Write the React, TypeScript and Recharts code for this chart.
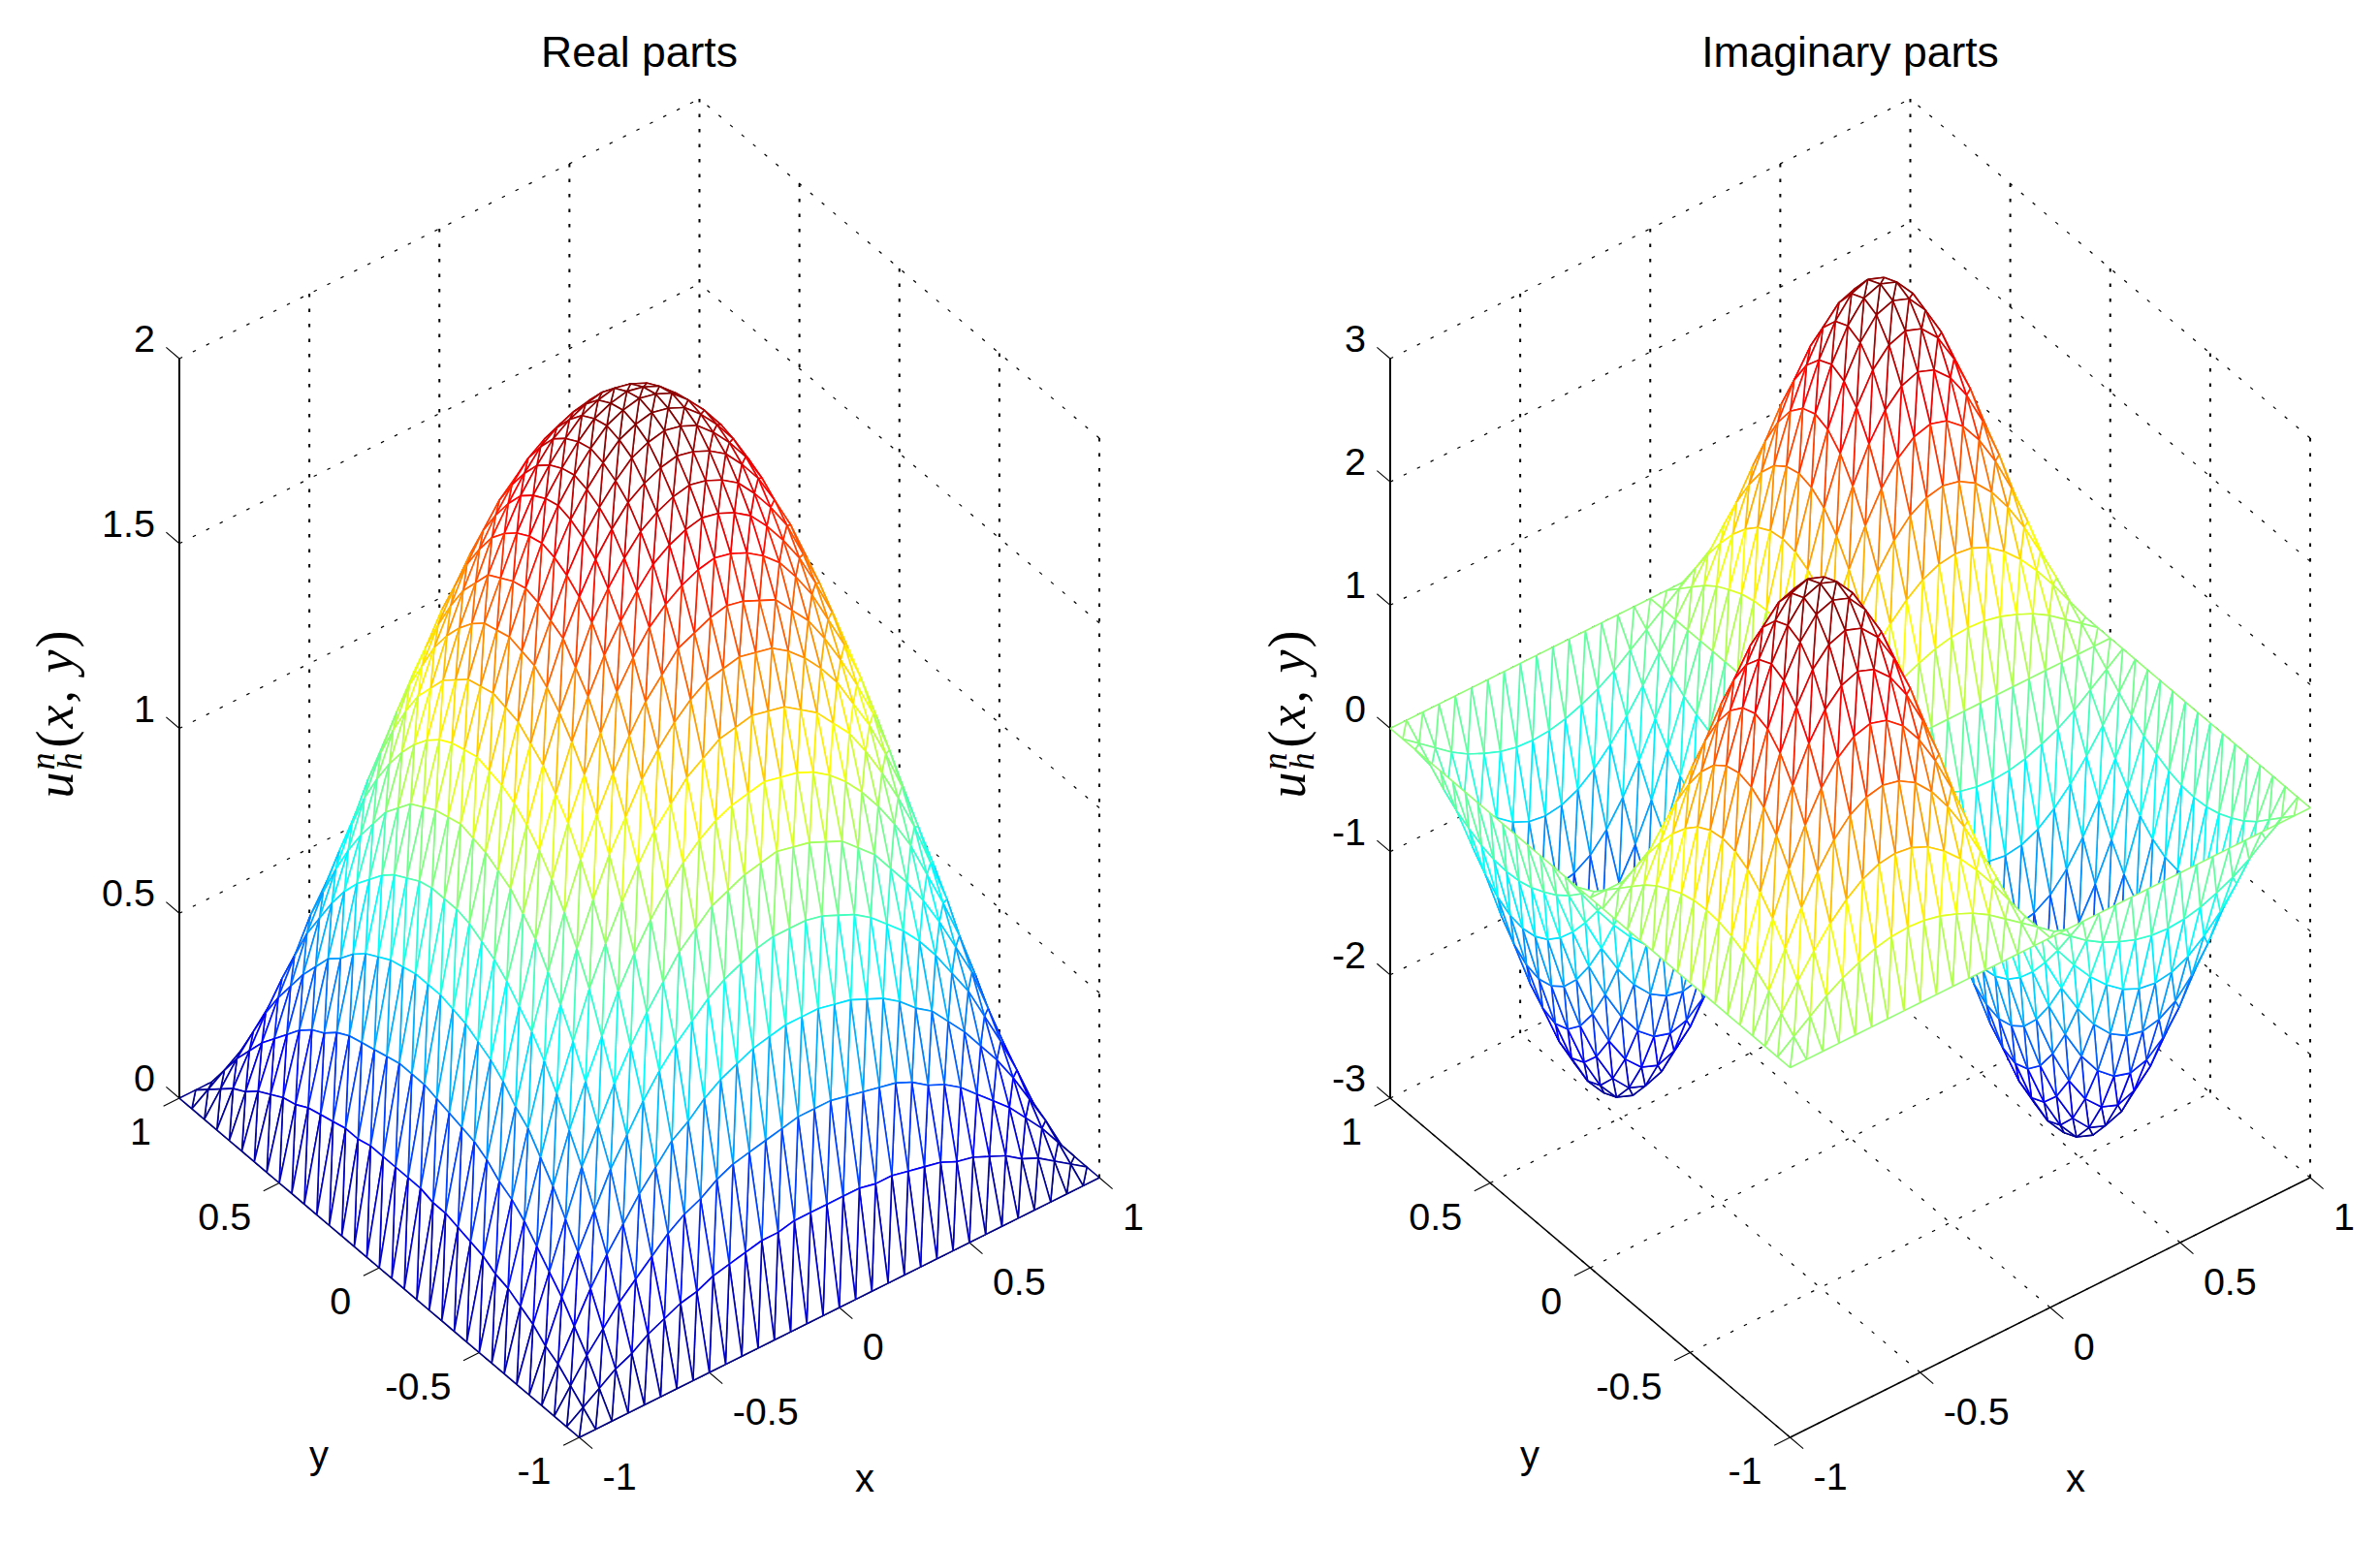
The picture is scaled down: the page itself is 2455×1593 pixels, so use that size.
import { ComposedChart, Line, Scatter, XAxis, YAxis } from "recharts";

// mesh heights at the nodes of one quarter of the surface (x, y from -1 to 0, 33x33 mesh in all),
// in hundredths
const realQuarter = [
  [0, 0, 0, 0, 0, 0, 0, 0, 0, 0, 0, 0, 0, 0, 0, 0, 0],
  [0, 3, 6, 9, 11, 14, 16, 18, 19, 21, 22, 23, 24, 24, 25, 25, 25],
  [0, 6, 12, 17, 22, 26, 30, 34, 37, 39, 42, 44, 45, 46, 47, 48, 48],
  [0, 9, 17, 25, 32, 38, 44, 49, 54, 57, 61, 64, 66, 68, 69, 70, 70],
  [0, 11, 22, 32, 41, 50, 57, 64, 70, 75, 79, 83, 86, 88, 90, 91, 91],
  [0, 14, 26, 38, 50, 59, 68, 76, 83, 89, 95, 99, 103, 105, 107, 108, 109],
  [0, 16, 30, 44, 57, 68, 78, 88, 96, 103, 109, 114, 118, 121, 123, 124, 125],
  [0, 18, 34, 49, 64, 76, 88, 98, 107, 115, 122, 127, 132, 135, 138, 139, 140],
  [0, 19, 37, 54, 70, 83, 96, 107, 117, 125, 133, 139, 144, 148, 151, 152, 153],
  [0, 21, 39, 57, 75, 89, 103, 115, 125, 134, 142, 149, 154, 159, 161, 163, 164],
  [0, 22, 42, 61, 79, 95, 109, 122, 133, 142, 151, 158, 164, 168, 171, 173, 174],
  [0, 23, 44, 64, 83, 99, 114, 127, 139, 149, 158, 165, 171, 176, 179, 181, 182],
  [0, 24, 45, 66, 86, 103, 118, 132, 144, 154, 164, 171, 177, 182, 185, 187, 188],
  [0, 24, 46, 68, 88, 105, 121, 135, 148, 159, 168, 176, 182, 187, 190, 192, 193],
  [0, 25, 47, 69, 90, 107, 123, 138, 151, 161, 171, 179, 185, 190, 194, 196, 197],
  [0, 25, 48, 70, 91, 108, 124, 139, 152, 163, 173, 181, 187, 192, 196, 198, 199],
  [0, 25, 48, 70, 91, 109, 125, 140, 153, 164, 174, 182, 188, 193, 197, 199, 200],
];

const imagQuarter = [
  [0, 0, 0, 0, 0, 0, 0, 0, 0, 0, 0, 0, 0, 0, 0, 0, 0],
  [0, 10, 20, 30, 38, 44, 49, 52, 53, 52, 49, 44, 38, 30, 20, 10, 0],
  [0, 20, 40, 58, 74, 87, 97, 103, 105, 103, 97, 87, 74, 58, 40, 20, 0],
  [0, 30, 58, 85, 108, 127, 141, 149, 152, 149, 141, 127, 108, 85, 58, 30, 0],
  [0, 38, 74, 108, 137, 161, 179, 190, 194, 190, 179, 161, 137, 108, 74, 38, 0],
  [0, 44, 87, 127, 161, 189, 210, 223, 228, 223, 210, 189, 161, 127, 87, 44, 0],
  [0, 49, 97, 141, 179, 210, 234, 248, 253, 248, 234, 210, 179, 141, 97, 49, 0],
  [0, 52, 103, 149, 190, 223, 248, 264, 269, 264, 248, 223, 190, 149, 103, 52, 0],
  [0, 53, 105, 152, 194, 228, 253, 269, 274, 269, 253, 228, 194, 152, 105, 53, 0],
  [0, 52, 103, 149, 190, 223, 248, 264, 269, 264, 248, 223, 190, 149, 103, 52, 0],
  [0, 49, 97, 141, 179, 210, 234, 248, 253, 248, 234, 210, 179, 141, 97, 49, 0],
  [0, 44, 87, 127, 161, 189, 210, 223, 228, 223, 210, 189, 161, 127, 87, 44, 0],
  [0, 38, 74, 108, 137, 161, 179, 190, 194, 190, 179, 161, 137, 108, 74, 38, 0],
  [0, 30, 58, 85, 108, 127, 141, 149, 152, 149, 141, 127, 108, 85, 58, 30, 0],
  [0, 20, 40, 58, 74, 87, 97, 103, 105, 103, 97, 87, 74, 58, 40, 20, 0],
  [0, 10, 20, 30, 38, 44, 49, 52, 53, 52, 49, 44, 38, 30, 20, 10, 0],
  [0, 0, 0, 0, 0, 0, 0, 0, 0, 0, 0, 0, 0, 0, 0, 0, 0],
];

const xyTicks = [-1, -0.5, 0, 0.5, 1];
const realZTicks = [0, 0.5, 1, 1.5, 2];
const imagZTicks = [-3, -2, -1, 0, 1, 2, 3];

const CHART_W = 1206;
const CHART_H = 1593;
const FONT = "'Liberation Sans', Arial, sans-serif";

// the view: where the box corners land in the chart's axis units
const FRONT = { x: 597.5, y: 1483 };
const LEFT = { x: 185, y: 1133 };
const RIGHT = { x: 1134, y: 1215 };
const Z_SPAN = 763;
const CELLS = 32;

type Pt = { sx: number; sy: number | null };
type Seg = [number, number, number][];

function project(x: number, y: number, z: number, zMin: number, zMax: number) {
  const u = (x + 1) / 2;
  const v = (y + 1) / 2;
  return {
    sx: FRONT.x + u * (RIGHT.x - FRONT.x) + v * (LEFT.x - FRONT.x),
    sy: FRONT.y + u * (RIGHT.y - FRONT.y) + v * (LEFT.y - FRONT.y) - ((z - zMin) / (zMax - zMin)) * Z_SPAN,
  };
}

function jet(t: number) {
  const level = Math.min(63, Math.floor(Math.max(0, t) * 64));
  const c = (level + 1) / 64;
  const ch = (k: number) => Math.round(255 * Math.min(1, Math.max(0, 1.5 - Math.abs(4 * c - k))));
  return `rgb(${ch(3)},${ch(2)},${ch(1)})`;
}

// whole mesh from a quarter table; flip turns the two opposite quarters upside down.
// the picture's bumps read a little lower than its dips, hence the two factors
function meshHeight(rows: number[][], flip: boolean) {
  return (i: number, j: number) => {
    const a = i <= 16 ? i : 32 - i;
    const b = j <= 16 ? j : 32 - j;
    if (!flip) return rows[a][b] / 100;
    return i > 16 !== j > 16 ? (-1.015 * rows[a][b]) / 100 : (0.99 * rows[a][b]) / 100;
  };
}

// triangles far to near, so that each one paints over what is behind it
function buildTriangles(rows: number[][], flip: boolean, zMin: number, zMax: number) {
  const zAt = meshHeight(rows, flip);
  const peak = Math.max(...rows.flat()) / 100;
  const low = flip ? -peak : 0;
  const colour = (a: number, b: number) => jet(((a + b) / 2 - low) / (peak - low));
  const node = (i: number, j: number) => {
    const z = zAt(i, j);
    return { ...project((i / CELLS) * 2 - 1, (j / CELLS) * 2 - 1, z, zMin, zMax), z };
  };
  const out: any[] = [];
  const tri = (a: any, b: any, c: any) => {
    const sx = (a.sx + b.sx + c.sx) / 3;
    const sy = (a.sy + b.sy + c.sy) / 3;
    out.push({
      sx,
      sy,
      dx: [a.sx - sx, b.sx - sx, c.sx - sx],
      dy: [a.sy - sy, b.sy - sy, c.sy - sy],
      colors: [colour(a.z, b.z), colour(b.z, c.z), colour(c.z, a.z)],
    });
  };
  for (let s = 2 * CELLS - 2; s >= 0; s--) {
    for (let i = 0; i < CELLS; i++) {
      const j = s - i;
      if (j < 0 || j >= CELLS) continue;
      tri(node(i, j), node(i + 1, j), node(i + 1, j + 1));
      tri(node(i, j), node(i + 1, j + 1), node(i, j + 1));
    }
  }
  return out;
}

function toSeries(segs: Seg[], zMin: number, zMax: number) {
  const out: Pt[] = [];
  segs.forEach((seg) => {
    seg.forEach(([x, y, z]) => out.push(project(x, y, z, zMin, zMax)));
    out.push({ sx: 0, sy: null });
  });
  return out;
}

function TriangleMark(props: any) {
  const { cx, cy, payload } = props;
  const xs = payload.dx.map((d: number) => cx + d);
  const ys = payload.dy.map((d: number) => cy + d);
  const pts = xs.map((x: number, k: number) => `${x},${ys[k]}`).join(" ");
  return (
    <g>
      <polygon points={pts} fill="#fff" stroke="none" />
      {[0, 1, 2].map((k) => (
        <line
          key={k}
          x1={xs[k]}
          y1={ys[k]}
          x2={xs[(k + 1) % 3]}
          y2={ys[(k + 1) % 3]}
          stroke={payload.colors[k]}
          strokeWidth={1.6}
        />
      ))}
    </g>
  );
}

function TickText(props: any) {
  const { cx, cy, payload } = props;
  return (
    <text x={cx} y={cy} textAnchor={payload.anchor} fontFamily={FONT} fontSize={39.5} fill="#000">
      {payload.text}
    </text>
  );
}

function SurfacePanel({ rows, flip, zTicks, title, left, labelX }: any) {
  const zMin = zTicks[0];
  const zMax = zTicks[zTicks.length - 1];
  const triangles = buildTriangles(rows, flip, zMin, zMax);

  const flatGrid: Seg[] = [];
  const standing: Seg[] = [];
  xyTicks.forEach((t) => {
    flatGrid.push([[t, -1, zMin], [t, 1, zMin]]);
    flatGrid.push([[-1, t, zMin], [1, t, zMin]]);
    standing.push([[t, 1, zMin], [t, 1, zMax]]);
    standing.push([[1, t, zMin], [1, t, zMax]]);
  });
  zTicks.forEach((z: number) => {
    flatGrid.push([[-1, 1, z], [1, 1, z]]);
    flatGrid.push([[1, -1, z], [1, 1, z]]);
  });

  const tickMarks: Seg[] = [];
  xyTicks.forEach((t) => {
    tickMarks.push([[t, -1, zMin], [t, -1.066, zMin]]);
    tickMarks.push([[-1, t, zMin], [-1.061, t, zMin]]);
  });
  zTicks.forEach((z: number) => tickMarks.push([[-1, 1, z], [-1, 1.066, z]]));

  const tickTexts: any[] = [];
  xyTicks.forEach((t) => {
    const onX = project(t, -1, zMin, zMin, zMax);
    const onY = project(-1, t, zMin, zMin, zMax);
    tickTexts.push({ sx: onX.sx + 24, sy: onX.sy + 54, text: String(t), anchor: "start" });
    tickTexts.push({ sx: onY.sx - 29, sy: onY.sy + 48, text: String(t), anchor: "end" });
  });
  zTicks.forEach((z: number) => {
    const p = project(-1, 1, z, zMin, zMax);
    tickTexts.push({ sx: p.sx - 25, sy: p.sy - 7, text: String(z), anchor: "end" });
  });

  const labelY = 736;
  return (
    <div style={{ position: "absolute", left, top: 0 }}>
      <ComposedChart width={CHART_W} height={CHART_H} margin={{ top: 0, right: 0, bottom: 0, left: 0 }}>
        <XAxis type="number" dataKey="sx" domain={[0, CHART_W]} hide />
        <YAxis type="number" dataKey="sy" domain={[0, CHART_H]} reversed hide />
        <Line
          data={toSeries(flatGrid, zMin, zMax)}
          dataKey="sy"
          stroke="#000"
          strokeWidth={1.2}
          strokeDasharray="3.5 12"
          dot={false}
          activeDot={false}
          isAnimationActive={false}
        />
        <Line
          data={toSeries(standing, zMin, zMax)}
          dataKey="sy"
          stroke="#000"
          strokeWidth={2}
          strokeDasharray="3.5 12"
          dot={false}
          activeDot={false}
          isAnimationActive={false}
        />
        <Line
          data={toSeries([[[-1, -1, zMin], [1, -1, zMin]]], zMin, zMax)}
          dataKey="sy"
          stroke="#000"
          strokeWidth={1.5}
          dot={false}
          activeDot={false}
          isAnimationActive={false}
        />
        <Scatter data={triangles} shape={TriangleMark} isAnimationActive={false} />
        <Line
          data={toSeries([[[-1, 1, zMin], [-1, -1, zMin]]], zMin, zMax)}
          dataKey="sy"
          stroke="#000"
          strokeWidth={1.5}
          dot={false}
          activeDot={false}
          isAnimationActive={false}
        />
        <Line
          data={toSeries([[[-1, 1, zMin], [-1, 1, zMax]]], zMin, zMax)}
          dataKey="sy"
          stroke="#000"
          strokeWidth={2}
          dot={false}
          activeDot={false}
          isAnimationActive={false}
        />
        <Line
          data={toSeries(tickMarks, zMin, zMax)}
          dataKey="sy"
          stroke="#000"
          strokeWidth={1.1}
          dot={false}
          activeDot={false}
          isAnimationActive={false}
        />
        <Scatter data={tickTexts} shape={TickText} isAnimationActive={false} />
        <text x={659.5} y={68.5} textAnchor="middle" fontFamily={FONT} fontSize={44.5} fill="#000">
          {title}
        </text>
        <text x={892} y={1539} textAnchor="middle" fontFamily={FONT} fontSize={40} fill="#000">
          x
        </text>
        <text x={329} y={1515} textAnchor="middle" fontFamily={FONT} fontSize={40} fill="#000">
          y
        </text>
        <text
          x={labelX}
          y={labelY}
          transform={`rotate(-90 ${labelX} ${labelY})`}
          textAnchor="middle"
          fontFamily="'Liberation Serif', serif"
          fontStyle="italic"
          fontSize={54}
          letterSpacing={2}
          fill="#000"
        >
          <tspan>u</tspan>
          <tspan fontSize={36} dy={9}>h</tspan>
          <tspan fontSize={36} dx={-20} dy={-28}>n</tspan>
          <tspan dy={19} dx={3} fontStyle="normal">(</tspan>
          <tspan>x</tspan>
          <tspan fontStyle="normal">, </tspan>
          <tspan>y</tspan>
          <tspan fontStyle="normal">)</tspan>
        </text>
      </ComposedChart>
    </div>
  );
}

export default function App() {
  return (
    <div style={{ position: "absolute", left: 0, top: 0, width: 2455, height: 1593, background: "#fff" }}>
      <SurfacePanel rows={realQuarter} flip={false} zTicks={realZTicks} title="Real parts" left={0} labelX={75} />
      <SurfacePanel rows={imagQuarter} flip={true} zTicks={imagZTicks} title="Imaginary parts" left={1249} labelX={97} />
    </div>
  );
}
